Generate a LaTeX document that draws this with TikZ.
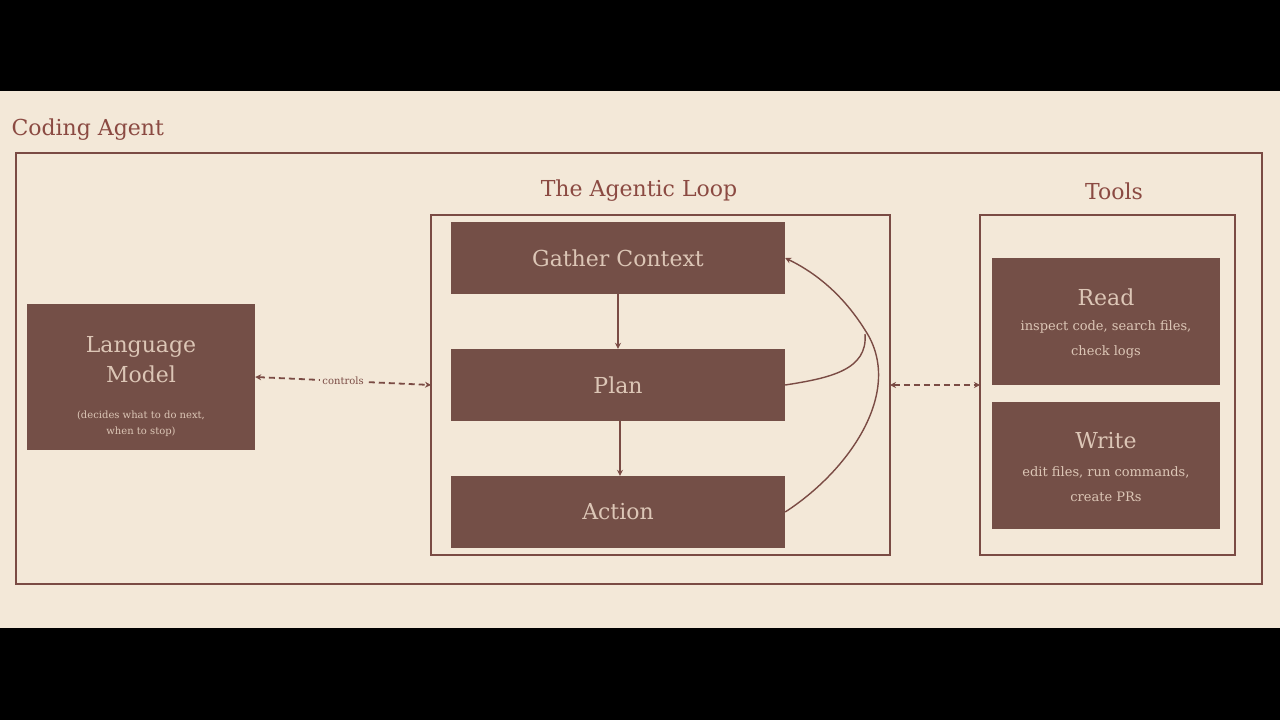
\documentclass[tikz,border=0pt]{standalone}
\usepackage{fontspec}
\setmainfont{DejaVu Serif}
\usetikzlibrary{arrows.meta}
\definecolor{bg}{HTML}{F3E8D8}
\definecolor{boxc}{HTML}{744F47}
\definecolor{txl}{HTML}{DCC6B6}
\definecolor{ln}{HTML}{7A4B44}
\definecolor{ttl}{HTML}{8B4A42}
\begin{document}
\begin{tikzpicture}[x=1pt,y=-1pt,
  box/.style={fill=boxc,draw=none,text=txl,align=center,inner sep=0},
  frame/.style={draw=ln,line width=1.6pt},
  ttlt/.style={text=ttl,font=\fontsize{22}{26}\selectfont},
  arr/.style={draw=ln,line width=1.5pt,-{Stealth[length=6pt,width=6pt]}},
  darr/.style={draw=ln,line width=1.8pt,dash pattern=on 6pt off 4pt,{Stealth[length=6pt,width=6pt]}-{Stealth[length=6pt,width=6pt]}}]
\fill[black] (0,0) rectangle (1280,720);
\fill[bg] (0,91) rectangle (1280,628);
\useasboundingbox (0,0) rectangle (1280,720);
\node[ttlt,anchor=west] (ca) at (8,130) {Coding Agent};
\draw[frame] (16,153) rectangle (1262,584);
\draw[frame] (431,215) rectangle (890,555);
\coordinate (loopL) at (431,385); \coordinate (loopR) at (890,385);
\node[ttlt] (lt) at (639,191) {The Agentic Loop};
\draw[frame] (980,215) rectangle (1235,555);
\coordinate (toolsL) at (980,385);
\node[ttlt] (tt) at (1114,191) {Tools};
\node[box,minimum width=334pt,minimum height=72pt,font=\fontsize{22}{26}\selectfont] (g) at (618,258) {Gather Context};
\node[box,minimum width=334pt,minimum height=72pt,font=\fontsize{22}{26}\selectfont] (p) at (618,385) {Plan};
\node[box,minimum width=334pt,minimum height=72pt,font=\fontsize{22}{26}\selectfont] (a) at (618,512) {Action};
\node[box,minimum width=228pt,minimum height=146pt] (lm) at (141,377) {};
\node[text=txl,align=center,font=\fontsize{22}{30}\selectfont] (lmt) at (141,360) {Language\\Model};
\node[text=txl,align=center,font=\fontsize{10}{16}\selectfont] (lms) at (141,424) {(decides what to do next,\\when to stop)};
\node[box,minimum width=228pt,minimum height=127pt] (r) at (1106,321) {};
\node[text=txl,font=\fontsize{22}{26}\selectfont] (rt) at (1106,297) {Read};
\node[text=txl,align=center,font=\fontsize{13}{25}\selectfont] (rs) at (1106,340) {inspect code, search files,\\check logs};
\node[box,minimum width=228pt,minimum height=127pt] (w) at (1106,465) {};
\node[text=txl,font=\fontsize{22}{26}\selectfont] (wt) at (1106,441) {Write};
\node[text=txl,align=center,font=\fontsize{13}{25}\selectfont] (ws) at (1106,484) {edit files, run commands,\\create PRs};
\draw[arr] (g.south) -- (p.north);
\draw[arr] ([xshift=2pt]p.south) -- ([xshift=2pt]a.north);
\draw[darr] (lm.east) -- (loopL) node[midway,fill=bg,inner sep=2pt,text=ln,font=\fontsize{10}{12}\selectfont] (ctl) {controls};
\draw[darr] (loopR) -- (toolsL);
\draw[arr,line width=1.4pt] (a.east) .. controls (850,470) and (905,390) .. (865,330) .. controls (840,290) and (810,270) .. (g.east);
\draw[draw=ln,line width=1.4pt] (p.east) .. controls (830,378) and (868,370) .. (865,334);
\end{tikzpicture}
\end{document}
